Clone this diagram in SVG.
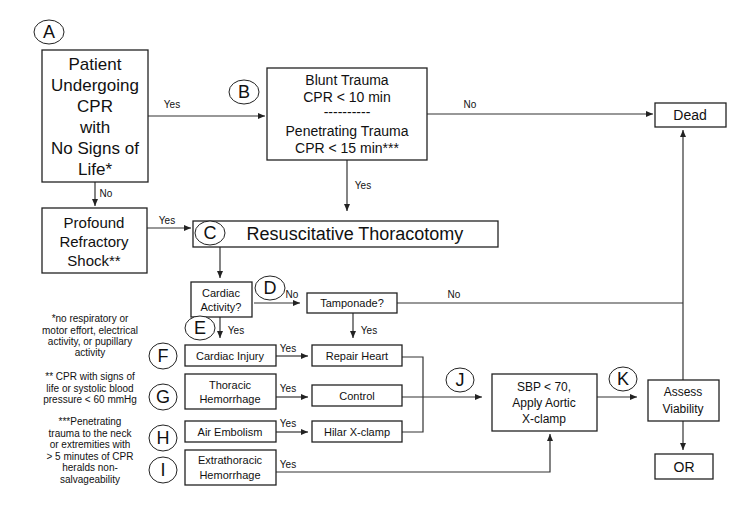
<svg xmlns="http://www.w3.org/2000/svg" width="750" height="528" viewBox="0 0 750 528">
<style>
.b{fill:#fff;stroke:#222;stroke-width:1.3}
.c{fill:#fff;stroke:#222;stroke-width:1}
.l{fill:none;stroke:#333;stroke-width:1.2}
text{font-family:"Liberation Sans",Arial,sans-serif;fill:#111;text-anchor:middle}
.s{font-size:10px}
.m{font-size:11px}
.n{font-size:12px}
.g{font-size:14px}
.x{font-size:18px}
.p{font-size:17px}
</style>
<defs><marker id="a" markerWidth="8" markerHeight="8" refX="7" refY="4" orient="auto" markerUnits="userSpaceOnUse"><path d="M0,1 L7,4 L0,7 Z" fill="#222"/></marker></defs>
<rect width="750" height="528" fill="#fff"/>
<g id="connectors">
<path class="l" d="M148,116 H265" marker-end="url(#a)"/><text class="s" x="172" y="108">Yes</text>
<path class="l" d="M427,114 H653" marker-end="url(#a)"/><text class="s" x="470" y="108">No</text>
<path class="l" d="M95,182 V206" marker-end="url(#a)"/><text class="s" x="106" y="197">No</text>
<path class="l" d="M347,160 V211" marker-end="url(#a)"/><text class="s" x="363" y="189">Yes</text>
<path class="l" d="M147,228 H191" marker-end="url(#a)"/><text class="s" x="167" y="224">Yes</text>
<path class="l" d="M220,247 V278" marker-end="url(#a)"/>
<path class="l" d="M254,303 H300" marker-end="url(#a)"/><text class="s" x="292" y="298">No</text>
<path class="l" d="M397,303 H683"/><text class="s" x="454" y="298">No</text>
<path class="l" d="M220,317 V338" marker-end="url(#a)"/><text class="s" x="236" y="334">Yes</text>
<path class="l" d="M353,313 V338" marker-end="url(#a)"/><text class="s" x="369" y="334">Yes</text>
<path class="l" d="M276,356 H308" marker-end="url(#a)"/><text class="s" x="288" y="352">Yes</text>
<path class="l" d="M276,397 H308" marker-end="url(#a)"/><text class="s" x="288" y="392">Yes</text>
<path class="l" d="M276,432 H308" marker-end="url(#a)"/><text class="s" x="288" y="427">Yes</text>
<path class="l" d="M402,357 H423 V432 H402"/>
<path class="l" d="M402,397 H482" marker-end="url(#a)"/>
<path class="l" d="M276,472 H550 V434" marker-end="url(#a)"/><text class="s" x="288" y="468">Yes</text>
<path class="l" d="M597,397 H637" marker-end="url(#a)"/>
<path class="l" d="M683,380 V130" marker-end="url(#a)"/>
<path class="l" d="M683,421 V450" marker-end="url(#a)"/>
</g>
<g id="A"><ellipse class="c" cx="49" cy="32" rx="15" ry="12"/><text class="x" x="49" y="38">A</text></g>
<g id="patient"><rect class="b" x="42" y="50" width="106" height="132"/>
<text class="p" x="95" y="70">Patient</text><text class="p" x="95" y="91">Undergoing</text><text class="p" x="95" y="112">CPR</text><text class="p" x="95" y="133">with</text><text class="p" x="95" y="154">No Signs of</text><text class="p" x="95" y="175">Life*</text></g>
<g id="B"><ellipse class="c" cx="244" cy="92" rx="15" ry="12"/><text class="x" x="244" y="98">B</text>
<rect class="b" x="267" y="68" width="160" height="92"/>
<text class="g" x="347" y="85">Blunt Trauma</text><text class="g" x="347" y="102">CPR &lt; 10 min</text><text class="g" x="347" y="117">----------</text><text class="g" x="347" y="136">Penetrating Trauma</text><text class="g" x="347" y="153">CPR &lt; 15 min***</text></g>
<g id="dead"><rect class="b" x="655" y="103" width="71" height="24"/><text class="g" x="690" y="120">Dead</text></g>
<g id="shock"><rect class="b" x="42" y="208" width="105" height="65"/><text class="g" x="94" y="228" style="font-size:15px">Profound</text><text class="g" x="94" y="247" style="font-size:15px">Refractory</text><text class="g" x="94" y="266" style="font-size:15px">Shock**</text></g>
<g id="C"><rect class="b" x="193" y="221" width="305" height="26"/><ellipse class="c" cx="210" cy="233" rx="15" ry="12"/><text class="x" x="210" y="239">C</text><text class="x" x="355" y="240">Resuscitative Thoracotomy</text></g>
<g id="cardiac"><rect class="b" x="191" y="282" width="61" height="35"/><text class="m" x="221" y="297">Cardiac</text><text class="m" x="221" y="311">Activity?</text></g>
<g id="D"><ellipse class="c" cx="270" cy="288" rx="15" ry="12"/><text class="x" x="270" y="294">D</text></g>
<g id="tamponade"><rect class="b" x="307" y="293" width="90" height="20"/><text class="m" x="352" y="307">Tamponade?</text></g>
<g id="E"><ellipse class="c" cx="200" cy="328" rx="15" ry="12"/><text class="x" x="200" y="334">E</text></g>
<g id="notes"><text class="s" x="90" y="322">*no respiratory or</text><text class="s" x="90" y="334">motor effort, electrical</text><text class="s" x="90" y="345">activity, or pupillary</text><text class="s" x="90" y="356">activity</text>
<text class="s" x="90" y="380">** CPR with signs of</text><text class="s" x="90" y="392">life or systolic blood</text><text class="s" x="90" y="403">pressure &lt; 60 mmHg</text>
<text class="s" x="90" y="425">***Penetrating</text><text class="s" x="90" y="437">trauma to the neck</text><text class="s" x="90" y="448">or extremities with</text><text class="s" x="90" y="460">&gt; 5 minutes of CPR</text><text class="s" x="90" y="471">heralds non-</text><text class="s" x="90" y="483">salvageability</text></g>
<g id="F"><ellipse class="c" cx="163" cy="356" rx="14" ry="13"/><text class="x" x="163" y="362">F</text><rect class="b" x="185" y="345" width="91" height="21"/><text class="m" x="230" y="360">Cardiac Injury</text></g>
<g id="repair"><rect class="b" x="312" y="345" width="90" height="21"/><text class="m" x="357" y="360">Repair Heart</text></g>
<g id="G"><ellipse class="c" cx="163" cy="397" rx="14" ry="13"/><text class="x" x="163" y="403">G</text><rect class="b" x="185" y="374" width="91" height="35"/><text class="m" x="230" y="389">Thoracic</text><text class="m" x="230" y="403">Hemorrhage</text></g>
<g id="control"><rect class="b" x="312" y="385" width="90" height="21"/><text class="m" x="357" y="400">Control</text></g>
<g id="H"><ellipse class="c" cx="163" cy="438" rx="14" ry="13"/><text class="x" x="163" y="444">H</text><rect class="b" x="185" y="421" width="91" height="21"/><text class="m" x="230" y="436">Air Embolism</text></g>
<g id="hilar"><rect class="b" x="312" y="421" width="90" height="21"/><text class="m" x="357" y="436">Hilar X-clamp</text></g>
<g id="I"><ellipse class="c" cx="163" cy="470" rx="14" ry="13"/><text class="x" x="163" y="476">I</text><rect class="b" x="185" y="450" width="91" height="35"/><text class="m" x="230" y="464">Extrathoracic</text><text class="m" x="230" y="479">Hemorrhage</text></g>
<g id="J"><ellipse class="c" cx="460" cy="380" rx="14" ry="12"/><text class="x" x="460" y="386">J</text></g>
<g id="sbp"><rect class="b" x="492" y="374" width="105" height="57"/><text class="n" x="544" y="391">SBP &lt; 70,</text><text class="n" x="544" y="407">Apply Aortic</text><text class="n" x="544" y="423">X-clamp</text></g>
<g id="K"><ellipse class="c" cx="623" cy="379" rx="14" ry="12"/><text class="x" x="623" y="385">K</text></g>
<g id="assess"><rect class="b" x="648" y="380" width="71" height="41"/><text class="n" x="683" y="396">Assess</text><text class="n" x="683" y="413">Viability</text></g>
<g id="or"><rect class="b" x="655" y="454" width="58" height="25"/><text class="g" x="684" y="472">OR</text></g>
</svg>
